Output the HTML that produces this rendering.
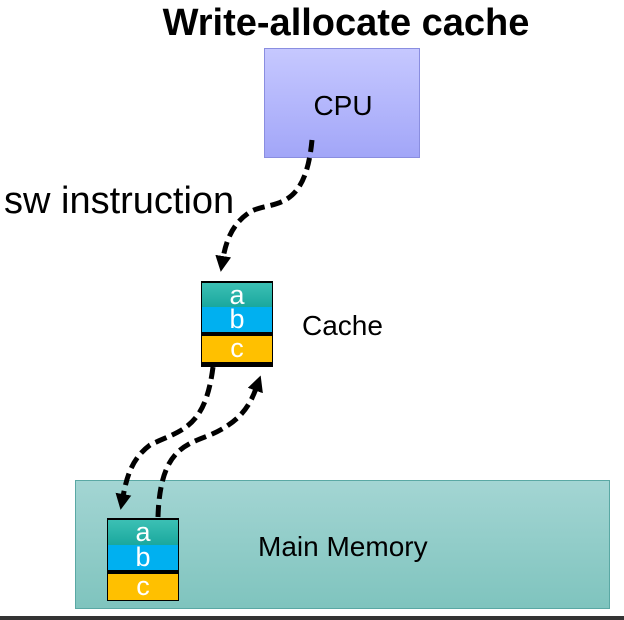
<!DOCTYPE html>
<html><head><style>
body{margin:0;width:624px;height:620px;background:#fff;position:relative;overflow:hidden;font-family:"Liberation Sans",sans-serif}
.a{position:absolute}
.blk{position:absolute;width:72px;background:#000}
.r{position:absolute;left:1px;width:70px;color:#fff;font-size:27px;text-align:center;line-height:24px}
</style></head><body>
<div class="a" style="left:0;top:2px;width:692px;text-align:center;font-weight:bold;font-size:38px;">Write-allocate cache</div>
<div class="a" style="left:264px;top:48px;width:156px;height:110px;background:linear-gradient(#c6c8ff,#a2a6f8);border:1px solid #8a8ee0;box-sizing:border-box"></div>
<div class="a" style="left:264px;top:90px;width:156px;text-align:center;font-size:28px;left:265px">CPU</div>
<div class="a" style="left:4px;top:180px;font-size:38px">sw instruction</div>
<div class="a" style="left:302px;top:310px;font-size:28px">Cache</div>
<div class="a" style="left:75px;top:480px;width:535px;height:129px;background:linear-gradient(#a3d5d3,#7fc4be);border:1px solid #5aa8a4;box-sizing:border-box"></div>
<div class="a" style="left:258px;top:531px;font-size:28px">Main Memory</div>
<div class="blk" style="left:201px;top:281px;height:86px">
 <div class="r" style="top:2px;height:24px;background:linear-gradient(#3cc0b4,#1aa89e)">a</div>
 <div class="r" style="top:26px;height:25px;background:#00b0f0">b</div>
 <div class="r" style="top:55px;height:26px;background:#ffc000">c</div>
</div>
<div class="blk" style="left:107px;top:518px;height:83px">
 <div class="r" style="top:2px;height:25px;background:linear-gradient(#3cc0b4,#1aa89e)">a</div>
 <div class="r" style="top:27px;height:25px;background:#00b0f0">b</div>
 <div class="r" style="top:56px;height:26px;background:#ffc000">c</div>
</div>
<div class="a" style="left:0;top:616px;width:624px;height:4px;background:#333"></div>
<svg class="a" style="left:0;top:0" width="624" height="620">
<defs><marker id="m" markerWidth="3.2" markerHeight="3.2" refX="1.6" refY="1.6" orient="auto" markerUnits="strokeWidth"><path d="M0,0L3.2,1.6L0,3.2z"/></marker></defs>
<g fill="none" stroke="#000" stroke-width="5" stroke-dasharray="12,6">
<path d="M312,140 C305,215 270,200 250,212 C230,225 225,245 222,264" marker-end="url(#m)"/>
<path d="M213,367 C205,430 180,430 150,445 C130,460 126,480 122,502" marker-end="url(#m)"/>
<path d="M158,517 C160,450 185,445 210,435 C245,420 252,400 258,383" marker-end="url(#m)"/>
</g>
</svg>
</body></html>
